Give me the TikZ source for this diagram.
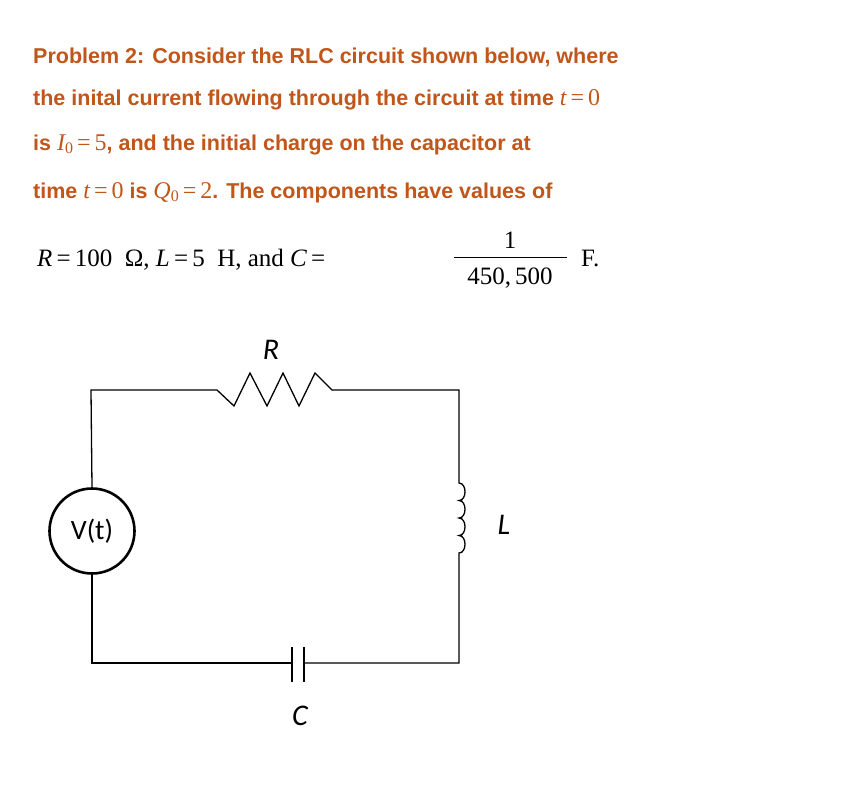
\documentclass[tikz,border=0pt]{standalone}
\usepackage{fontspec}
\setmainfont{Liberation Sans}
\newfontfamily\tms{Liberation Serif}
\newfontfamily\carl{Carlito}
\definecolor{prob}{HTML}{C0561A}
\newcommand{\mv}[1]{{\tms\itshape #1}}
\newcommand{\mn}[1]{{\tms #1}}
\newcommand{\eq}{\,{\tms=}\,}
\begin{document}
\begin{tikzpicture}[x=1pt,y=-1pt,
  txt/.style={anchor=base west,inner sep=0,font=\fontsize{21.5}{24}\selectfont\bfseries,text=prob},
  wire/.style={line width=1.3pt,line join=miter},
  lab/.style={font=\carl\itshape\fontsize{30}{32}\selectfont}]
\useasboundingbox (0,0) rectangle (844,792);
\node[txt] (l1) at (33,64) {Problem 2: Consider the RLC circuit shown below, where};
\node[txt] (l2) at (33,106) {the inital current flowing through the circuit at time \mdseries\fontsize{24}{24}\selectfont\mv{t}\eq\mn{0}};
\node[txt] (l3) at (33,150) {is {\mdseries\fontsize{24}{24}\selectfont\mv{I}\raisebox{-3pt}{\fontsize{16}{16}\selectfont\mn{0}}\eq\mn{5}}, and the initial charge on the capacitor at};
\node[txt] (l4) at (33,198) {time {\mdseries\fontsize{24}{24}\selectfont\mv{t}\eq\mn{0}} is {\mdseries\fontsize{24}{24}\selectfont\mv{Q}\raisebox{-3pt}{\fontsize{16}{16}\selectfont\mn{0}}\eq\mn{2}}. The components have values of};
\node[anchor=base west,inner sep=0,font=\tms\fontsize{25}{26}\selectfont] (l5) at (37,266) {\mv{R}\eq100~~Ω, \mv{L}\eq5~~H,~and \mv{C}\eq};
\node[anchor=base,inner sep=0,font=\tms\fontsize{25}{26}\selectfont] (num) at (510,248) {1};
\node[anchor=base,inner sep=0,font=\tms\fontsize{25}{26}\selectfont] (den) at (510,284) {450,\,500};
\draw[line width=0.8pt] (454,257) -- (567,257);
\node[anchor=base west,inner sep=0,font=\tms\fontsize{25}{26}\selectfont] (F) at (581,266) {F.};
% circuit
\node[draw,circle,line width=2.6pt,minimum size=85pt,inner sep=0,font=\carl\fontsize{28}{30}\selectfont] (V) at (92,531) {V(t)};
\coordinate (tl) at (91,390); \coordinate (tr) at (459,390);
\coordinate (bl) at (92,663); \coordinate (br) at (459,663);
\coordinate (r1) at (217,390); \coordinate (r2) at (332,390);
\coordinate (i1) at (459,483); \coordinate (i2) at (459,553);
\coordinate (c1) at (292,663); \coordinate (c2) at (304,663);
\draw[wire] (V.north) -- (tl) -- (r1) -- (234,406) -- (250,373) -- (267,406) -- (283,373) -- (299,406) -- (315,373) -- (r2) -- (tr) -- (i1)
  .. controls +(8,0) and +(8,0) .. ++(0,17.5)
  .. controls +(8,0) and +(8,0) .. ++(0,17.5)
  .. controls +(8,0) and +(8,0) .. ++(0,17.5)
  .. controls +(8,0) and +(8,0) .. (i2) -- (br) -- (c2);
\draw[wire] (c1) -- (bl) -- (V.south);
\draw[wire] (292,647) -- (292,682);
\draw[wire] (304,647) -- (304,682);
\node[lab] (R) at (271,350) {R};
\node[lab] (L) at (504,525) {L};
\node[lab] (C) at (300,716) {C};
\end{tikzpicture}
\end{document}
